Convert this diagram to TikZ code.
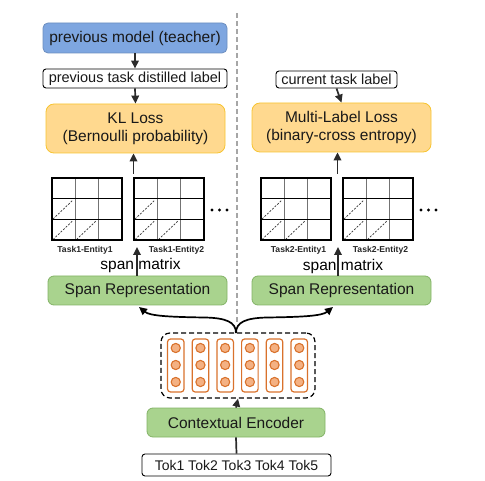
\documentclass[tikz,border=0pt]{standalone}
\usepackage{fontspec}
\setmainfont{Liberation Sans}
\usetikzlibrary{arrows.meta,calc}
\definecolor{bluef}{HTML}{7EA6E0}
\definecolor{blued}{HTML}{6C8EBF}
\definecolor{orf}{HTML}{FFD98F}
\definecolor{ord}{HTML}{F7C431}
\definecolor{grf}{HTML}{A9D38E}
\definecolor{grd}{HTML}{82B366}
\definecolor{cirf}{HTML}{F4B183}
\definecolor{cird}{HTML}{D9722C}
\definecolor{arrc}{HTML}{2B2B2B}
\begin{document}
\begin{tikzpicture}[x=1pt,y=-1pt,
  font=\fontsize{15.5}{18}\selectfont,
  basebox/.style={rounded corners=5pt, line width=0.8pt, align=center, inner sep=0pt, text=black!90},
  bluebox/.style={basebox, fill=bluef, draw=blued},
  lossbox/.style={basebox, rounded corners=8pt, fill=orf, draw=ord},
  greenbox/.style={basebox, rounded corners=6pt, fill=grf, draw=grd},
  labbox/.style={basebox, rounded corners=3pt, fill=white, draw=black, line width=0.9pt, font=\fontsize{14.5}{16}\selectfont},
  gridbox/.style={draw=black, line width=1.2pt, minimum width=70pt, minimum height=62pt, inner sep=0pt},
  gridtxt/.style={font=\fontsize{8.6}{10}\selectfont\bfseries, text=black!85},
  arr/.style={draw=arrc, line width=1.7pt, -{Triangle[length=8pt,width=7.5pt]}},
  plain/.style={draw=arrc, line width=1.7pt},
  hidbox/.style={draw=black, dashed, dash pattern=on 5pt off 3pt, line width=1.2pt, rounded corners=9pt, minimum width=154pt, minimum height=65pt, inner sep=0pt},
]
\useasboundingbox (0,0) rectangle (485,481);

% separator
\draw[black!35, line width=1.3pt, dash pattern=on 5pt off 3pt] (237,13) -- (237,322);

% left column
\node[bluebox, minimum width=184pt, minimum height=30pt] (teacher) at (135,38) {previous model (teacher)};
\node[labbox, minimum width=184pt, minimum height=19pt] (distill) at (135,78.5) {previous task distilled label};
\node[lossbox, minimum width=179pt, minimum height=49pt] (kl) at (135.5,128.5) {KL Loss\\(Bernoulli probability)};

% right column
\node[labbox, minimum width=121pt, minimum height=17pt] (curr) at (336.5,79.5) {current task label};
\node[lossbox, minimum width=179pt, minimum height=49pt] (ml) at (341.5,127.5) {Multi-Label Loss\\(binary-cross entropy)};

% grids
\foreach \gx/\nm in {52/g1,134/g2,261/g3,343/g4}{
  \node[gridbox] (\nm) at (\gx+35,209) {};
  \draw[black!55, line width=1.2pt] (\gx+23.3,178) -- (\gx+23.3,240) (\gx+46.7,178) -- (\gx+46.7,240);
  \draw[black, line width=1.2pt] (\gx,198.7) -- (\gx+70,198.7) (\gx,219.3) -- (\gx+70,219.3);
  \draw[black!80, line width=0.7pt, dashed, dash pattern=on 2pt off 1.5pt]
     (\gx+1,219) -- (\gx+21,200)
     (\gx+1,239.5) -- (\gx+21,220.5)
     (\gx+24.5,239.5) -- (\gx+44.5,220.5);
  \draw[draw=black, line width=1.2pt] (\gx,178) rectangle (\gx+70,240);
}
\node[gridtxt] (t11) at (85,250) {Task1-Entity1};
\node[gridtxt] (t12) at (176.5,250) {Task1-Entity2};
\node[gridtxt] (t21) at (298.5,250) {Task2-Entity1};
\node[gridtxt] (t22) at (380.5,250) {Task2-Entity2};

% dots
\foreach \dx in {212,219.5,227,421,428.5,436}{
  \fill[black] (\dx,210) circle (1.7pt);
}

\node (smL) at (140.5,265) {span matrix};
\node (smR) at (343,266) {span matrix};

\node[greenbox, minimum width=179pt, minimum height=29pt] (spanL) at (137.5,290.5) {Span Representation};
\node[greenbox, minimum width=179pt, minimum height=29pt] (spanR) at (341.5,290.5) {Span Representation};

% hidden states
\node[hidbox] (hid) at (238,365.5) {};
\foreach \i in {0,...,5}{
  \pgfmathsetmacro{\cx}{167.5+24.7*\i}
  \draw[cird, line width=1.2pt, rounded corners=3pt] (\cx,339) rectangle (\cx+16.5,392);
  \foreach \cy in {348,365,382}{
    \draw[cird, fill=cirf, line width=1.1pt] (\cx+8.25,\cy) circle (4.6pt);
  }
}

\node[greenbox, minimum width=178pt, minimum height=29pt] (enc) at (236,422.5) {Contextual Encoder};
\node[labbox, minimum width=189pt, minimum height=22pt, font=\fontsize{14}{16}\selectfont] (tok) at (236.5,465) {Tok1 Tok2 Tok3 Tok4 Tok5};

% connectors
\coordinate (klin) at (133.5,174);
\coordinate (mlin) at (337.5,174);
\coordinate (smLt) at (137,247);
\coordinate (smRt) at (338,247);
\coordinate (hidtop) at (236,333);
\coordinate (spLb) at (139,307);
\coordinate (spRb) at (333,307);

\draw[arr] (teacher.south) -- (distill.north);
\draw[arr] (distill.south) -- (kl.north);
\draw[arr] (curr.south) -- (ml.north);
\draw[arr] (klin) -- (klin |- kl.south);
\draw[arr] (mlin) -- (mlin |- ml.south);
\draw[arr] (smLt |- spanL.north) -- (smLt);
\draw[arr] (smRt |- spanR.north) -- (smRt);
\draw[arr, draw=black] (hidtop) .. controls (236,322) and (226,318) .. (205,317.5) .. controls (170,317) and (150,316) .. (spLb);
\draw[arr, draw=black] (hidtop) .. controls (236,322) and (246,318) .. (267,317.5) .. controls (302,317) and (322,316) .. (spRb);
\draw[arr] (enc.north) -- (hid.south);
\draw[plain] (tok.north) -- (enc.south);
\end{tikzpicture}
\end{document}
